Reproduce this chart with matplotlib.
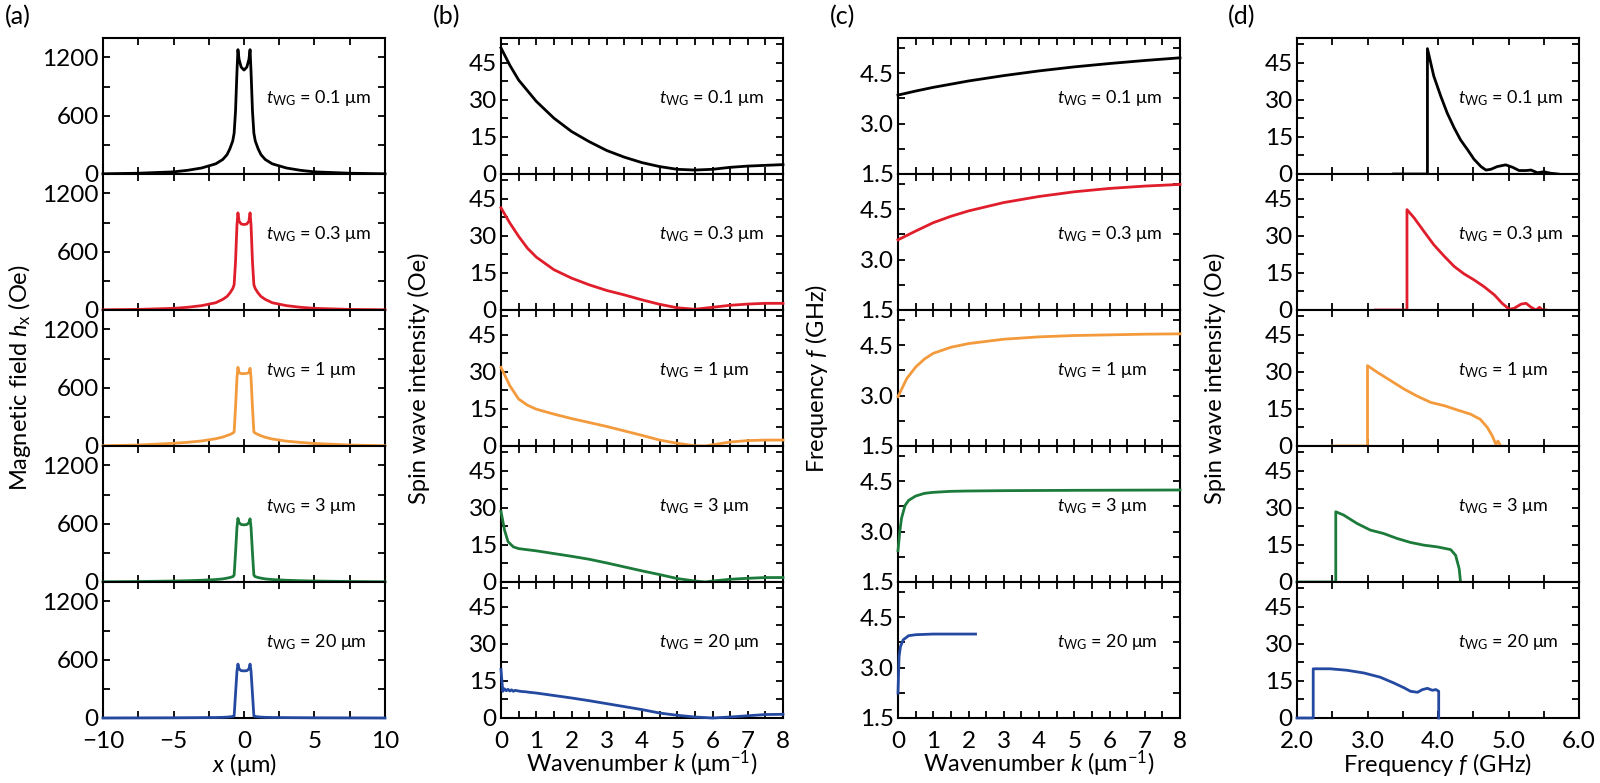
import matplotlib
matplotlib.use('Agg')
import matplotlib.pyplot as plt
from matplotlib.ticker import MultipleLocator, FormatStrFormatter

plt.rcParams['font.family'] = ['Lato', 'DejaVu Sans']
plt.rcParams['mathtext.fontset'] = 'custom'
plt.rcParams['mathtext.rm'] = 'Lato'
plt.rcParams['mathtext.it'] = 'Lato:italic'
plt.rcParams['mathtext.bf'] = 'Lato:bold'

# ---------------- data ----------------
thickness_labels = ['0.1', '0.3', '1', '3', '20']
colors = ['#000000', '#e01e2b', '#f39a3c', '#1c7a3a', '#2449a0']

# (a) magnetic field hx vs x
a_x = [-10, -7.5, -5, -4, -3, -2, -1.5, -1.2, -1.0, -0.8, -0.7, -0.6, -0.5, -0.43, -0.35, -0.2, 0,
       0.2, 0.35, 0.43, 0.5, 0.6, 0.7, 0.8, 1.0, 1.2, 1.5, 2, 3, 4, 5, 7.5, 10]
a_h_01 = [2, 8, 22, 38, 62, 105, 150, 200, 260, 340, 420, 650, 1050, 1280, 1180, 1100, 1070,
          1100, 1180, 1280, 1050, 650, 420, 340, 260, 200, 150, 105, 62, 38, 22, 8, 2]
a_h_03 = [2, 6, 17, 28, 45, 75, 110, 140, 175, 220, 260, 500, 870, 1000, 915, 885, 880,
          885, 915, 1000, 870, 500, 260, 220, 175, 140, 110, 75, 45, 28, 17, 6, 2]
a_h_1 = [3, 10, 28, 38, 52, 75, 92, 108, 118, 132, 145, 400, 700, 810, 755, 745, 745,
         748, 755, 800, 700, 400, 145, 132, 118, 105, 90, 72, 50, 37, 26, 10, 3]
a_h_3 = [2, 5, 10, 13, 18, 25, 32, 40, 46, 55, 70, 300, 560, 655, 610, 592, 588,
         592, 610, 650, 560, 300, 70, 55, 46, 40, 32, 25, 18, 13, 10, 5, 2]
a_h_20 = [0, 1, 2, 3, 4, 5, 7, 9, 12, 15, 20, 250, 480, 555, 505, 487, 485,
          487, 505, 555, 480, 250, 20, 15, 12, 9, 7, 5, 4, 3, 2, 1, 0]

# (b) spin wave intensity vs wavenumber
b_k_01 = [0, 0.25, 0.5, 1, 1.5, 2, 2.5, 3, 3.5, 4, 4.5, 5, 5.5, 6, 6.5, 7, 7.5, 8]
b_i_01 = [51, 44, 38, 29.4, 22.6, 17.2, 13.1, 9.5, 6.8, 4.6, 3.0, 1.9, 1.6, 1.9, 2.7, 3.2, 3.5, 3.8]
b_k_03 = [0, 0.25, 0.5, 0.75, 1, 1.5, 2, 2.5, 3, 3.5, 4, 4.5, 5, 5.5, 6, 6.5, 7, 7.5, 8]
b_i_03 = [41.3, 35.2, 29.8, 25, 21.4, 16.3, 12.9, 10.2, 7.9, 6.1, 4.1, 2.3, 0.9, 0.3, 1.1, 1.9, 2.4, 2.7, 2.7]
b_k_1 = [0, 0.25, 0.5, 0.75, 1, 1.5, 2, 2.5, 3, 3.5, 4, 4.5, 5, 5.5, 5.8, 6, 6.5, 7, 7.5, 8]
b_i_1 = [31.8, 24.4, 19, 16.5, 14.9, 12.9, 11.1, 9.5, 7.9, 6.1, 4.3, 2.4, 1.1, 0.1, 0, 0.5, 1.6, 2.2, 2.4, 2.4]
b_k_3 = [0, 0.1, 0.2, 0.35, 0.5, 1, 1.5, 2, 2.5, 3, 3.5, 4, 4.5, 5, 5.5, 5.8, 6, 6.5, 7, 7.5, 8]
b_i_3 = [28.5, 21, 16.3, 14.2, 13.5, 12.6, 11.5, 10.4, 9.2, 7.7, 6.1, 4.5, 3.0, 1.4, 0.4, 0, 0.4, 1.1, 1.5, 1.8, 1.8]
b_k_20 = [0, 0.05, 0.1, 0.15, 0.2, 0.25, 0.3, 0.35, 0.4, 0.5, 0.6, 0.7, 0.8, 1, 1.5, 2, 2.5, 3,
          3.5, 4, 4.5, 5, 5.5, 6, 6.5, 7, 7.5, 8]
b_i_20 = [19.6, 10.8, 11.8, 11.0, 11.6, 10.9, 11.4, 10.8, 11.2, 10.9, 10.7, 10.6, 10.4, 10.1, 9.1,
          8.1, 7.0, 5.8, 4.6, 3.4, 2.0, 1.1, 0.4, 0, 0.4, 0.9, 1.4, 1.5]

# (c) frequency vs wavenumber
c_k_01 = [0, 0.5, 1, 2, 3, 4, 5, 6, 7, 8]
c_f_01 = [3.85, 3.97, 4.08, 4.27, 4.43, 4.57, 4.69, 4.79, 4.88, 4.96]
c_k_03 = [0, 0.5, 1, 1.5, 2, 3, 4, 5, 6, 7, 8]
c_f_03 = [3.59, 3.85, 4.10, 4.29, 4.45, 4.70, 4.88, 5.02, 5.12, 5.19, 5.24]
c_k_1 = [0, 0.25, 0.5, 0.75, 1, 1.5, 2, 3, 4, 5, 6, 7, 8]
c_f_1 = [2.97, 3.51, 3.85, 4.09, 4.26, 4.44, 4.55, 4.68, 4.75, 4.79, 4.81, 4.83, 4.84]
c_k_3 = [0, 0.05, 0.1, 0.2, 0.3, 0.5, 0.75, 1, 1.5, 2, 3, 5, 8]
c_f_3 = [2.43, 3.0, 3.4, 3.78, 3.93, 4.06, 4.14, 4.17, 4.20, 4.21, 4.22, 4.23, 4.24]
c_k_20 = [0, 0.03, 0.07, 0.15, 0.3, 0.5, 1, 2.2]
c_f_20 = [2.24, 3.33, 3.63, 3.83, 3.95, 3.98, 4.0, 4.0]

# (d) spin wave intensity vs frequency
d_f_01 = [3.37, 3.85, 3.85, 3.94, 4.04, 4.13, 4.23, 4.32, 4.42, 4.51, 4.61, 4.68, 4.75, 4.84,
          4.96, 5.06, 5.15, 5.25, 5.32, 5.41, 5.5, 5.6, 5.7]
d_i_01 = [0, 0, 50.7, 39.6, 31.4, 24.7, 18.6, 13.8, 9.8, 6.0, 3.0, 1.6, 1.9, 3.0,
          3.7, 2.7, 1.4, 1.4, 1.6, 0.5, 0.9, 0.3, 0]
d_f_03 = [3.11, 3.56, 3.56, 3.66, 3.8, 3.94, 4.09, 4.23, 4.37, 4.51, 4.65, 4.8, 4.91, 5.01,
          5.08, 5.18, 5.25, 5.32, 5.39, 5.44, 5.48, 5.53]
d_i_03 = [0, 0, 40.6, 37.3, 31.8, 26.4, 21.7, 17.6, 14.6, 12.2, 9.5, 6.1, 2.7, 0.3,
          0.7, 2.4, 2.7, 1.1, 0, 1.1, 0, 0]
d_f_1 = [2.5, 3.0, 3.0, 3.14, 3.33, 3.52, 3.71, 3.9, 4.09, 4.27, 4.46, 4.6, 4.7, 4.77, 4.82, 4.85, 4.89]
d_i_1 = [0, 0, 32.5, 29.8, 26.4, 23.0, 20.1, 17.6, 16.3, 14.6, 12.9, 10.8, 7.5, 4.1, 0.7, 2.0, 0]
d_f_3 = [2.0, 2.55, 2.55, 2.66, 2.85, 3.04, 3.23, 3.42, 3.61, 3.8, 3.99, 4.18, 4.25, 4.3, 4.32]
d_i_3 = [0, 0, 28.4, 27.1, 23.7, 21.0, 19.6, 17.6, 16.0, 14.9, 14.2, 13.1, 10.8, 5.4, 0]
d_f_20 = [2.0, 2.23, 2.23, 2.47, 2.71, 2.95, 3.18, 3.37, 3.52, 3.61, 3.71, 3.78, 3.85, 3.92, 3.97, 4.01, 4.01]
d_i_20 = [0, 0, 19.9, 19.9, 19.3, 18.2, 16.5, 14.2, 12.2, 10.8, 10.4, 11.5, 12.0, 11.2, 11.5, 10.8, 0]

panel_a = [(a_x, a_h_01), (a_x, a_h_03), (a_x, a_h_1), (a_x, a_h_3), (a_x, a_h_20)]
panel_b = [(b_k_01, b_i_01), (b_k_03, b_i_03), (b_k_1, b_i_1), (b_k_3, b_i_3), (b_k_20, b_i_20)]
panel_c = [(c_k_01, c_f_01), (c_k_03, c_f_03), (c_k_1, c_f_1), (c_k_3, c_f_3), (c_k_20, c_f_20)]
panel_d = [(d_f_01, d_i_01), (d_f_03, d_i_03), (d_f_1, d_i_1), (d_f_3, d_i_3), (d_f_20, d_i_20)]

# ---------------- layout ----------------
W, H = 1600, 783
fig = plt.figure(figsize=(W / 100, H / 100), dpi=100)

col_left = [103, 501, 898, 1297]
col_w = 282
top_px = 38
row_h = 136

cfg = [
    dict(data=panel_a, xlim=(-10, 10), ylim=(0, 1400), xmaj=5, xmin=2.5, ymaj=600, ymin=300,
         xfmt=None, yfmt=None, tx=0.578),
    dict(data=panel_b, xlim=(0, 8), ylim=(0, 55), xmaj=1, xmin=0.5, ymaj=15, ymin=7.5,
         xfmt=None, yfmt=None, tx=0.562),
    dict(data=panel_c, xlim=(0, 8), ylim=(1.5, 5.55), xmaj=1, xmin=0.5, ymaj=1.5, ymin=0.75,
         xfmt=None, yfmt='%.1f', tx=0.565),
    dict(data=panel_d, xlim=(2.0, 6.0), ylim=(0, 55), xmaj=1, xmin=0.5, ymaj=15, ymin=7.5,
         xfmt='%.1f', yfmt=None, tx=0.57),
]

for c, cf in enumerate(cfg):
    for r in range(5):
        bottom_px = top_px + (r + 1) * row_h
        ax = fig.add_axes([col_left[c] / W, 1 - bottom_px / H, col_w / W, row_h / H])
        xs, ys = cf['data'][r]
        ax.plot(xs, ys, color=colors[r], lw=2.0, clip_on=False, zorder=5,
                solid_joinstyle='round')
        ax.set_xlim(*cf['xlim'])
        ax.set_ylim(*cf['ylim'])
        ax.xaxis.set_major_locator(MultipleLocator(cf['xmaj']))
        ax.xaxis.set_minor_locator(MultipleLocator(cf['xmin']))
        ax.yaxis.set_major_locator(MultipleLocator(cf['ymaj']))
        ax.yaxis.set_minor_locator(MultipleLocator(cf['ymin']))
        if cf['xfmt']:
            ax.xaxis.set_major_formatter(FormatStrFormatter(cf['xfmt']))
        if cf['yfmt']:
            ax.yaxis.set_major_formatter(FormatStrFormatter(cf['yfmt']))
        ax.tick_params(which='both', direction='in', top=True, right=True,
                       length=5, width=1.3, labelsize=17.5, pad=3)
        ax.tick_params(axis='x', which='both', pad=9)
        if r < 4:
            ax.tick_params(labelbottom=False)
        for sp in ax.spines.values():
            sp.set_linewidth(1.5)
        ax.text(cf['tx'], 0.56, r'$t_{\mathrm{WG}}$ = ' + thickness_labels[r] + ' μm',
                transform=ax.transAxes, fontsize=13, ha='left', va='center')

# panel letters
for lbl, xp in zip(['(a)', '(b)', '(c)', '(d)'], [5, 433, 830, 1228]):
    fig.text(xp / W, 1 - 17 / H, lbl, fontsize=18, ha='left', va='center')

# y labels
ymid = 1 - (top_px + 5 * row_h / 2) / H
fig.text(20 / W, ymid, r'Magnetic field $h_{\mathrm{x}}$ (Oe)', rotation=90, fontsize=17,
         ha='center', va='center')
fig.text(419 / W, ymid, 'Spin wave intensity (Oe)', rotation=90, fontsize=17,
         ha='center', va='center')
fig.text(817 / W, ymid, r'Frequency $f$ (GHz)', rotation=90, fontsize=17,
         ha='center', va='center')
fig.text(1215 / W, ymid, 'Spin wave intensity (Oe)', rotation=90, fontsize=17,
         ha='center', va='center')

# x labels
xl_y = 1 - 764 / H
fig.text((col_left[0] + col_w / 2) / W, xl_y, r'$x$ (μm)', fontsize=17, ha='center', va='center')
fig.text((col_left[1] + col_w / 2) / W, xl_y, r'Wavenumber $k$ (μm$^{\mathrm{-1}}$)', fontsize=17,
         ha='center', va='center')
fig.text((col_left[2] + col_w / 2) / W, xl_y, r'Wavenumber $k$ (μm$^{\mathrm{-1}}$)', fontsize=17,
         ha='center', va='center')
fig.text((col_left[3] + col_w / 2) / W, xl_y, r'Frequency $f$ (GHz)', fontsize=17,
         ha='center', va='center')

fig.savefig('out.png', dpi=100)
